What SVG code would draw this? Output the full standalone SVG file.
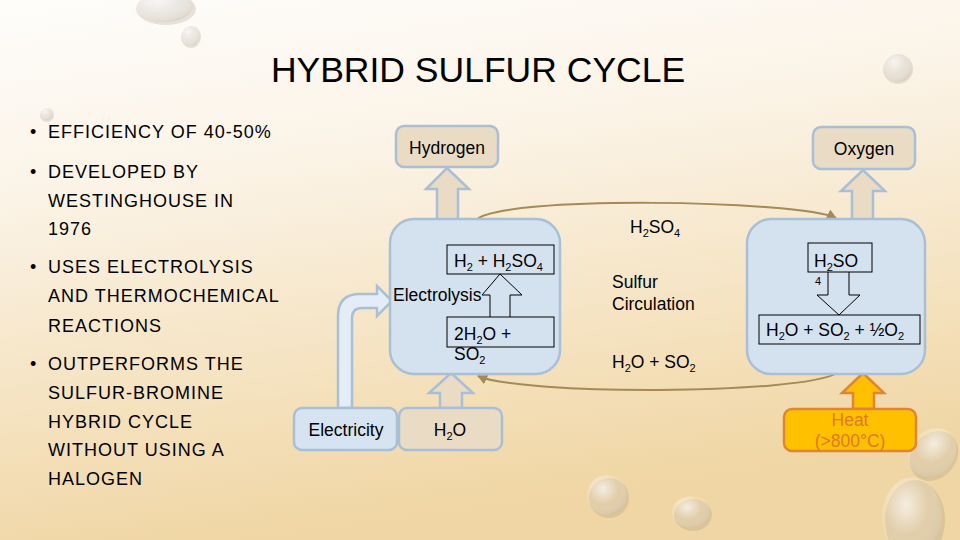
<svg xmlns="http://www.w3.org/2000/svg" width="960" height="540" viewBox="0 0 960 540">
<defs>
<linearGradient id="bg" x1="0" y1="0" x2="0.25" y2="1">
<stop offset="0" stop-color="#fefdfb"/>
<stop offset="0.35" stop-color="#fbf3e6"/>
<stop offset="1" stop-color="#f0d6a4"/>
</linearGradient>
<radialGradient id="drop" cx="0.4" cy="0.35" r="0.7">
<stop offset="0" stop-color="#ffffff" stop-opacity="0.7"/>
<stop offset="0.55" stop-color="#ffffff" stop-opacity="0.15"/>
<stop offset="0.9" stop-color="#d8cfc0" stop-opacity="0.35"/>
<stop offset="1" stop-color="#b8ad9a" stop-opacity="0.6"/>
</radialGradient>
<marker id="arr" viewBox="0 0 10 10" refX="9" refY="5" markerWidth="5" markerHeight="5" orient="auto">
<path d="M0,0 L10,5 L0,10 z" fill="#a58a56"/>
</marker>
<style>
text{font-family:"Liberation Sans",Arial,sans-serif;fill:#000}
.t{font-size:17.5px}
.sub{font-size:11px}
.bul{font-size:18px;letter-spacing:1px}
.big{fill:#d4e2f0;stroke:#a9bfd6;stroke-width:2.5}
.tan{fill:#eadcc4;stroke:#a9bfd6;stroke-width:2.5}
.blue{fill:#d6e4f1;stroke:#a9bfd6;stroke-width:2.5}
.inner{fill:none;stroke:#000;stroke-width:1}
.link{fill:none;stroke:#a58a56;stroke-width:2}
.heat{fill:#ffc000;stroke:#e08533;stroke-width:2.5}
.drp{fill:url(#drop)}
.shd{fill:#8a7e6c;opacity:0.2}
</style>
</defs>
<rect width="960" height="540" fill="url(#bg)"/>

<g id="droplets">
<ellipse class="shd" cx="166" cy="9" rx="30" ry="16"/>
<ellipse class="drp" cx="163" cy="6" rx="30" ry="16"/>
<ellipse class="shd" cx="191" cy="37" rx="10" ry="11"/>
<ellipse class="drp" cx="190" cy="35" rx="10" ry="11"/>
<circle class="shd" cx="898" cy="69" r="15"/>
<circle class="drp" cx="897" cy="67" r="15"/>
<circle class="shd" cx="47" cy="115" r="7"/>
<circle class="drp" cx="46" cy="113" r="7"/>
<circle class="shd" cx="609" cy="498" r="20"/>
<circle class="drp" cx="607" cy="495" r="20"/>
<ellipse class="shd" cx="693" cy="515" rx="19" ry="16"/>
<ellipse class="drp" cx="691" cy="512" rx="19" ry="16"/>
<ellipse class="shd" cx="934" cy="456" rx="22" ry="27" transform="rotate(40 934 456)"/>
<ellipse class="drp" cx="932" cy="453" rx="22" ry="27" transform="rotate(40 932 453)"/>
<ellipse class="shd" cx="915" cy="520" rx="30" ry="40"/>
<ellipse class="drp" cx="912" cy="517" rx="30" ry="40"/>
</g>

<text x="478" y="82" text-anchor="middle" style="font-size:35.5px">HYBRID SULFUR CYCLE</text>

<g id="bullets" class="bul">
<text class="bul" x="30" y="138">•</text><text class="bul" x="48" y="138">EFFICIENCY OF 40-50%</text>
<text class="bul" x="30" y="178">•</text><text class="bul" x="48" y="178">DEVELOPED BY</text>
<text class="bul" x="48" y="207">WESTINGHOUSE IN</text>
<text class="bul" x="48" y="235">1976</text>
<text class="bul" x="30" y="273">•</text><text class="bul" x="48" y="273">USES ELECTROLYSIS</text>
<text class="bul" x="48" y="302">AND THERMOCHEMICAL</text>
<text class="bul" x="48" y="332">REACTIONS</text>
<text class="bul" x="30" y="370">•</text><text class="bul" x="48" y="370">OUTPERFORMS THE</text>
<text class="bul" x="48" y="399">SULFUR-BROMINE</text>
<text class="bul" x="48" y="428">HYBRID CYCLE</text>
<text class="bul" x="48" y="456">WITHOUT USING A</text>
<text class="bul" x="48" y="485">HALOGEN</text>
</g>

<g id="connectors">
<path class="tan" d="M437,220 L437,189 L426,189 L447,168 L469,189 L458,189 L458,220 Z"/>
<path class="tan" d="M852,220 L852,191 L841,191 L863,170 L885,191 L873,191 L873,220 Z"/>
<path class="tan" d="M440,408 L440,393 L429,393 L451,373 L473,393 L462,393 L462,408 Z"/>
<path class="heat" d="M853,409 L853,393 L842,393 L863,373 L884,393 L874,393 L874,409 Z"/>
<path fill="#e4edf6" stroke="#a9bfd6" stroke-width="2.5" d="M338,408 L338,316 Q338,294 360,294 L377,294 L377,286 L392,301 L377,316 L377,308 L362,308 Q352,308 352,318 L352,408 Z"/>
<path class="link" d="M476,220 C500,195 800,200 836,218" marker-end="url(#arr)"/>
<path class="link" d="M837,373 C800,395 520,395 478,376" marker-end="url(#arr)"/>
</g>

<g id="hydrogen">
<rect class="tan" x="396" y="126" width="102" height="41" rx="8"/>
<text class="t" x="447" y="154" text-anchor="middle">Hydrogen</text>
</g>
<g id="oxygen">
<rect class="tan" x="813" y="127" width="102" height="42" rx="8"/>
<text class="t" x="864" y="155" text-anchor="middle">Oxygen</text>
</g>

<g id="electrolysis-unit">
<rect class="big" x="390" y="219" width="170" height="155" rx="24"/>
<rect class="inner" x="447" y="245" width="107" height="29"/>
<text class="t" x="454" y="267">H<tspan class="sub" dy="4">2</tspan><tspan dy="-4"> + H</tspan><tspan class="sub" dy="4">2</tspan><tspan dy="-4">SO</tspan><tspan class="sub" dy="4">4</tspan></text>
<path class="inner" d="M490,317 L490,295 L482,295 L500,274 L522,295 L510,295 L510,317"/>
<rect class="inner" x="447" y="317" width="107" height="30"/>
<text class="t" x="454" y="340">2H<tspan class="sub" dy="4">2</tspan><tspan dy="-4">O +</tspan></text>
<text class="t" x="454" y="360">SO<tspan class="sub" dy="4">2</tspan></text>
<text class="t" x="393" y="301">Electrolysis</text>
</g>

<g id="decomposition-unit">
<rect class="big" x="747" y="219" width="178" height="155" rx="24"/>
<rect class="inner" x="808" y="243" width="64" height="29"/>
<text class="t" x="814" y="267">H<tspan class="sub" dy="4">2</tspan><tspan dy="-4">SO</tspan></text>
<text class="sub" x="815" y="285">4</text>
<path class="inner" d="M828,272 L828,295 L817,295 L839,315 L860,295 L849,295 L849,272"/>
<rect class="inner" x="759" y="315" width="161" height="29"/>
<text class="t" x="766" y="336">H<tspan class="sub" dy="4">2</tspan><tspan dy="-4">O + SO</tspan><tspan class="sub" dy="4">2</tspan><tspan dy="-4"> + ½O</tspan><tspan class="sub" dy="4">2</tspan></text>
</g>

<g id="labels">
<text class="t" x="630" y="233">H<tspan class="sub" dy="4">2</tspan><tspan dy="-4">SO</tspan><tspan class="sub" dy="4">4</tspan></text>
<text class="t" x="612" y="288">Sulfur</text>
<text class="t" x="612" y="310">Circulation</text>
<text class="t" x="612" y="368">H<tspan class="sub" dy="4">2</tspan><tspan dy="-4">O + SO</tspan><tspan class="sub" dy="4">2</tspan></text>
</g>

<g id="electricity">
<rect class="blue" x="294" y="408" width="103" height="42" rx="8"/>
<text class="t" x="346" y="436" text-anchor="middle">Electricity</text>
</g>
<g id="water">
<rect class="tan" x="399" y="408" width="103" height="42" rx="8"/>
<text class="t" x="450" y="436" text-anchor="middle">H<tspan class="sub" dy="4">2</tspan><tspan dy="-4">O</tspan></text>
</g>
<g id="heat">
<rect class="heat" x="784" y="409" width="132" height="42" rx="8"/>
<text class="t" x="850" y="426" text-anchor="middle" style="fill:#e07a22">Heat</text>
<text class="t" x="850" y="447" text-anchor="middle" style="fill:#e07a22">(&gt;800°C)</text>
</g>
</svg>
